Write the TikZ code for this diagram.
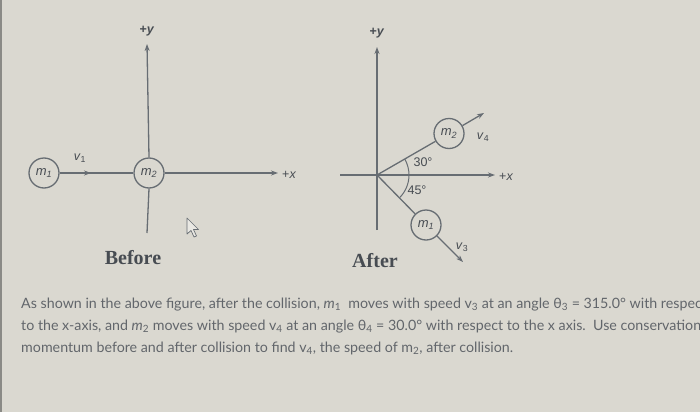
\documentclass[tikz,border=0pt]{standalone}
\usepackage{fontspec}
\setmainfont{Lato}
\newfontfamily\dfont{Liberation Sans}
\newfontfamily\tfont{Liberation Serif}
\usetikzlibrary{arrows.meta}
\definecolor{bg}{HTML}{DAD8D0}
\definecolor{ln}{HTML}{676D73}
\definecolor{tx}{HTML}{474C52}
\definecolor{ptx}{HTML}{62666B}
\definecolor{edge}{HTML}{8A8A86}
\begin{document}
\begin{tikzpicture}[x=1pt,y=-1pt,
 ax/.style={draw=ln, line width=1.3pt},
 arr/.style={ax,-{Stealth[length=7pt,width=5pt]}},
 mass/.style={circle, draw=ln, line width=1.3pt, minimum size=30pt, inner sep=0pt, font=\dfont\itshape\fontsize{13}{14}\selectfont, text=tx},
 lbl/.style={font=\dfont\fontsize{12.5}{14}\selectfont, text=tx, inner sep=1pt},
 ttl/.style={font=\tfont\bfseries\fontsize{20}{22}\selectfont, text=tx},
 para/.style={font=\fontsize{14.25}{22}\selectfont, text=ptx, anchor=base west, inner sep=0pt}]
\fill[bg] (0,0) rectangle (700,412);
\useasboundingbox (0,0) rectangle (700,412);
\clip (0,0) rectangle (700,412);
\draw[line width=2.5pt, edge] (1,0) -- (1,412);
% ---------- Before ----------
\node[mass] (m1) at (44,173) {m\textsubscript{1}};
\node[mass] (m2) at (149,173) {m\textsubscript{2}};
\coordinate (v1t) at (91,173);
\draw[ax] (m1) -- (m2);
\draw[arr] (m1) -- (v1t);
\node[lbl] (v1) at (80,158) {\textit{v}\textsubscript{1}};
\coordinate (bx) at (278,173);
\draw[arr] (m2) -- (bx);
\node[lbl, anchor=west] (bxl) at (281,175) {+\textit{x}};
\coordinate (byt) at (147,44);
\coordinate (byb) at (147,233);
\draw[arr] (m2.north) -- (byt);
\draw[ax] (m2.south) -- (byb);
\node[lbl] (byl) at (147,31) {\bfseries+\textit{y}};
\node[ttl] (before) at (133,258) {Before};
% cursor
\draw[ln, fill=bg!60!white, line width=0.7pt, line join=round]
  (187,218) -- (187,234) -- (191,230.5) -- (194,237) -- (196.5,236) -- (193.5,229.5) -- (198.5,229.5) -- cycle;
% ---------- After ----------
\coordinate (O) at (377,175);
\coordinate (axl) at (340,175);
\coordinate (axr) at (495,175);
\draw[arr] (axl) -- (axr);
\node[lbl, anchor=west] (axlab) at (498,177) {+\textit{x}};
\coordinate (ayt) at (377,47);
\coordinate (ayb) at (377,230);
\draw[arr] (ayb) -- (ayt);
\node[lbl] (aylab) at (377,33) {\bfseries+\textit{y}};
\node[mass] (n2) at (449,133.5) {m\textsubscript{2}};
\coordinate (v4t) at (484,113);
\draw[ax] (O) -- (n2);
\draw[arr] (n2) -- (v4t);
\node[lbl] (v4) at (483,137) {\textit{v}\textsubscript{4}};
\node[mass] (n1) at (426,225) {m\textsubscript{1}};
\coordinate (v3t) at (463,262);
\draw[ax] (O) -- (n1);
\draw[arr] (n1) -- (v3t);
\node[lbl] (v3) at (462,247) {\textit{v}\textsubscript{3}};
\draw[ax, line width=1pt] (O) ++(32,0) arc[start angle=0, end angle=-30, radius=32];
\draw[ax, line width=1pt] (O) ++(32,0) arc[start angle=0, end angle=45, radius=32];
\node[lbl] (a30) at (423,162) {30°};
\node[lbl] (a45) at (417,190) {45°};
\node[ttl] (after) at (375,261) {After};
% ---------- text ----------
\node[para] (l1) at (21,308) {As shown in the above figure, after the collision, \textit{m}\textsubscript{1}\ \ moves with speed v\textsubscript{3} at an angle θ\textsubscript{3} = 315.0° with respect};
\node[para] (l2) at (21,330) {to the x-axis, and \textit{m}\textsubscript{2} moves with speed v\textsubscript{4} at an angle θ\textsubscript{4} = 30.0° with respect to the x axis.\ \ Use conservation of};
\node[para] (l3) at (21,352) {momentum before and after collision to find v\textsubscript{4}, the speed of m\textsubscript{2}, after collision.};
\end{tikzpicture}
\end{document}
